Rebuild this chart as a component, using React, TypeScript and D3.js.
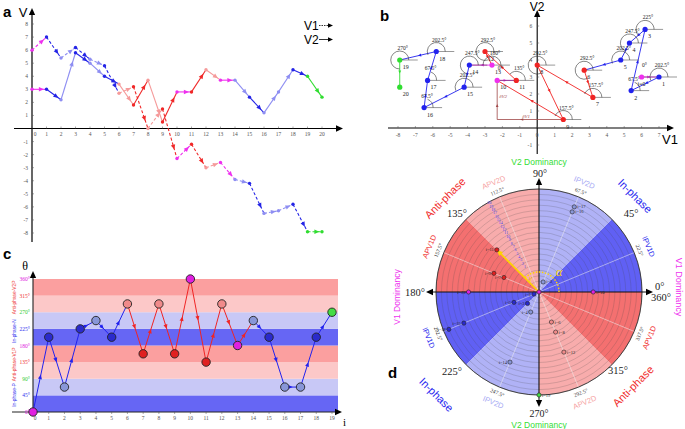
import * as d3 from 'd3';

// values
const V1 = [6, 7, 5.4, 6.2, 5.3, 4.8, 2.7, 3.2, 0, 1.5, -2.3, -1.2, -3, -2.6, -3.9, -4.2, -6.5, -6.3, -5.8, -7.9, -7.9];
const V2 = [3, 3, 2.2, 5.8, 5.0, 4.0, 3.4, 1.8, 3.7, 0.5, 2.8, 2.8, 4.5, 3.7, 3.7, 2.4, 1.2, 2.8, 4.5, 4.0, 2.4];
const THETA = [0, 202.5, 67.5, 225, 247.5, 202.5, 292.5, 157.5, 292.5, 157.5, 360, 135, 292.5, 180, 247.5, 202.5, 67.5, 67.5, 202.5, 270];

const I_TICKS_A = d3.range(0, 21);
const V_TICKS_A = d3.range(-8, 9);
const V1_TICKS_B = d3.range(-8, 8);
const V2_TICKS_B = d3.range(-1, 7);
const I_TICKS_C = d3.range(0, 20);
const ANGLE_TICKS = [0, 45, 90, 135, 180, 225, 270, 315, 360];
const C_GROUPS = ['In-phase-P', 'Anti-phase-V1P', 'In-phase-N', 'Anti-phase-V2P'];
const C_GROUP_AT = [46, 129, 219, 310];
const SECTOR_MIDS = [22.5, 67.5, 112.5, 157.5, 202.5, 247.5, 292.5, 337.5];
const SECTOR_NAMES = ['IPV1D', 'IPV2D', 'APV2D', 'APV1D', 'IPV1D', 'IPV2D', 'APV2D', 'APV1D'];
const PHASE_AT = [45, 135, 225, 315];
const PHASE_NAMES = ['In-phase', 'Anti-phase', 'In-phase', 'Anti-phase'];

type Cat = 'ipD' | 'ipL' | 'apL' | 'apD' | 'v1' | 'v2';
const LINE: Record<Cat, string> = { ipD: '#2424e6', ipL: '#8e8ef2', apD: '#f02828', apL: '#f59a9a', v1: '#ee30ee', v2: '#30dd30' };
const DOT: Record<Cat, string> = { ipD: '#2a2acc', ipL: '#8896d8', apD: '#e02020', apL: '#f08a8a', v1: '#e020e0', v2: '#44dd44' };
const BAND: Record<string, string> = { ipD: '#6666f4', ipL: '#c8c8f6', apL: '#fcc8c8', apD: '#fb9f9f' };
const SECT: Record<string, string> = { ipD: '#6060f4', ipL: '#b0b2f6', apL: '#f8acac', apD: '#f47070' };

function cat(t: number): Cat {
  const m = t % 180;
  if (m === 0) return 'v1';
  if (m === 90) return 'v2';
  if (m <= 45) return 'ipD';
  if (m < 90) return 'ipL';
  if (m < 135) return 'apL';
  return 'apD';
}
function group(t: number) {
  const m = t % 180;
  if (m === 0) return 'v1';
  if (m === 90) return 'v2';
  return m < 90 ? 'ip' : 'ap';
}
const GROUP_COL: Record<string, string> = { ip: '#2222ee', ap: '#f02424', v1: '#ee30ee', v2: '#30dd30' };

const SERIF = 'Liberation Serif, serif';
const SANS = 'Liberation Sans, Arial, sans-serif';

function Head({ x, y, ang, s = 4, fill = '#000' }: { x: number; y: number; ang: number; s?: number; fill?: string }) {
  return <path d={`M0,0L${-s},${-s * 0.45}L${-s},${s * 0.45}Z`} transform={`translate(${x},${y}) rotate(${ang})`} fill={fill} />;
}
function headOn(x1: number, y1: number, x2: number, y2: number, t: number) {
  return { x: x1 + (x2 - x1) * t, y: y1 + (y2 - y1) * t, ang: (Math.atan2(y2 - y1, x2 - x1) * 180) / Math.PI };
}

function PanelA() {
  const x = d3.scaleLinear().domain([0, 20]).range([32, 322]);
  const y = d3.scaleLinear().domain([-8, 8]).range([233, 24]);
  const segs = d3.range(0, 20);
  return (
    <g>
      <text x={3} y={17} fontFamily={SANS} fontWeight="bold" fontSize={15}>a</text>
      <line x1={14} x2={338} y1={y(0)} y2={y(0)} stroke="#000" strokeWidth={1.2} />
      <Head x={343} y={y(0)} ang={0} s={7} />
      <line x1={x(0)} x2={x(0)} y1={242} y2={12} stroke="#000" strokeWidth={1.2} />
      <Head x={x(0)} y={8} ang={-90} s={7} />
      <text x={23} y={17} fontFamily={SANS} fontSize={13} textAnchor="middle">V</text>
      {I_TICKS_A.map((t) => (
        <g key={t}>
          <line x1={x(t)} x2={x(t)} y1={y(0) - 2} y2={y(0)} stroke="#555" strokeWidth={0.5} />
          <text x={x(t) + (t === 0 ? 3 : 0)} y={y(0) + 7} fontFamily={SERIF} fontSize={5.5} fill="#555" textAnchor="middle">{t}</text>
        </g>
      ))}
      {V_TICKS_A.filter((t) => t !== 0).map((t) => (
        <g key={t}>
          <line x1={x(0)} x2={x(0) + 2} y1={y(t)} y2={y(t)} stroke="#555" strokeWidth={0.5} />
          <text x={x(0) - 4} y={y(t) + 2} fontFamily={SERIF} fontSize={5.5} fill="#555" textAnchor="end">{t}</text>
        </g>
      ))}
      {segs.map((i) => {
        const c = LINE[cat(THETA[i])];
        const a2 = headOn(x(i), y(V2[i]), x(i + 1), y(V2[i + 1]), 0.82);
        const a1 = headOn(x(i), y(V1[i]), x(i + 1), y(V1[i + 1]), 0.82);
        return (
          <g key={i}>
            <line x1={x(i)} y1={y(V2[i])} x2={x(i + 1)} y2={y(V2[i + 1])} stroke={c} strokeWidth={1.1} />
            <line x1={x(i)} y1={y(V1[i])} x2={x(i + 1)} y2={y(V1[i + 1])} stroke={c} strokeWidth={1.1} strokeDasharray="3,2" />
            <Head {...a2} s={5} fill={c} />
            <Head {...a1} s={5} fill={c} />
          </g>
        );
      })}
      {V1.map((v, i) => {
        const c = LINE[cat(THETA[Math.min(i, 19)])];
        return (
          <g key={i}>
            <circle cx={x(i)} cy={y(v)} r={1.7} fill={c} />
            <circle cx={x(i)} cy={y(V2[i])} r={1.7} fill={c} />
          </g>
        );
      })}
      <text x={304} y={30} fontFamily={SANS} fontSize={12}>V1</text>
      <line x1={319} x2={329} y1={25.5} y2={25.5} stroke="#000" strokeWidth={0.8} strokeDasharray="1.5,1" />
      <Head x={333} y={25.5} ang={0} s={5} />
      <text x={304} y={44} fontFamily={SANS} fontSize={12}>V2</text>
      <line x1={319} x2={329} y1={39.5} y2={39.5} stroke="#000" strokeWidth={0.8} />
      <Head x={333} y={39.5} ang={0} s={5} />
    </g>
  );
}

function PanelB() {
  const x = d3.scaleLinear().domain([-8, 7]).range([398, 659]);
  const y = d3.scaleLinear().domain([0, 6]).range([128, 26]);
  const bc = (t: number) => GROUP_COL[group(t)];
  const p9 = [x(V1[9]), y(V2[9])];
  const p10 = [x(V1[10]), y(V2[10])];
  const brown = '#a04848';
  return (
    <g>
      <text x={380} y={21} fontFamily={SANS} fontWeight="bold" fontSize={15}>b</text>
      <line x1={388} x2={668} y1={y(0)} y2={y(0)} stroke="#000" strokeWidth={1.1} />
      <Head x={674} y={y(0)} ang={0} s={7} />
      <text x={662} y={144} fontFamily={SANS} fontSize={13}>V1</text>
      <line x1={x(0)} x2={x(0)} y1={154} y2={16} stroke="#000" strokeWidth={1.1} />
      <Head x={x(0)} y={10} ang={-90} s={7} />
      <text x={537} y={11} fontFamily={SANS} fontSize={12} textAnchor="middle">V2</text>
      {V1_TICKS_B.map((t) => (
        <g key={t}>
          <line x1={x(t)} x2={x(t)} y1={y(0) - 2} y2={y(0)} stroke="#555" strokeWidth={0.5} />
          <text x={x(t)} y={y(0) + 9} fontFamily={SERIF} fontSize={5.5} fill="#555" textAnchor="middle">{t}</text>
        </g>
      ))}
      {V2_TICKS_B.filter((t) => t !== 0).map((t) => (
        <g key={t}>
          <line x1={x(0)} x2={x(0) + 2} y1={y(t)} y2={y(t)} stroke="#555" strokeWidth={0.5} />
          <text x={x(0) - 5} y={y(t) + 2} fontFamily={SERIF} fontSize={5.5} fill="#555" textAnchor="end">{t}</text>
        </g>
      ))}
      {/* delta triangle for step 9 -> 10 */}
      <line x1={p9[0]} y1={p9[1]} x2={p10[0]} y2={p9[1]} stroke={brown} strokeWidth={0.8} />
      <line x1={p10[0]} y1={p9[1]} x2={p10[0]} y2={p10[1]} stroke={brown} strokeWidth={0.8} />
      <Head x={(p9[0] + p10[0]) / 2 - 10} y={p9[1]} ang={180} s={3} fill={brown} />
      <Head x={p10[0]} y={(p9[1] + p10[1]) / 2 + 4} ang={-90} s={3} fill={brown} />
      <text x={(p9[0] + p10[0]) / 2 - 8} y={p9[1] - 2} fontFamily={SERIF} fontStyle="italic" fontSize={5} fill={brown}>δV1</text>
      <text x={p10[0] + 2} y={(p9[1] + p10[1]) / 2 - 2} fontFamily={SERIF} fontStyle="italic" fontSize={5} fill={brown}>δV2</text>
      {THETA.map((t, i) => {
        const x1 = x(V1[i]), y1 = y(V2[i]), x2 = x(V1[i + 1]), y2 = y(V2[i + 1]);
        const a = headOn(x1, y1, x2, y2, 0.5);
        return (
          <g key={i}>
            <line x1={x1} y1={y1} x2={x2} y2={y2} stroke={bc(t)} strokeWidth={0.9} />
            <Head {...a} s={3.2} fill={bc(t)} />
          </g>
        );
      })}
      {THETA.map((t, i) => {
        const px = x(V1[i]), py = y(V2[i]);
        const r = 9;
        const tt = t % 360;
        const rad = (tt * Math.PI) / 180;
        const arc = tt === 0 ? '' : `M${px + r},${py}A${r},${r} 0 ${tt > 180 ? 1 : 0} 0 ${px + r * Math.cos(rad)},${py - r * Math.sin(rad)}`;
        return (
          <g key={i}>
            <line x1={px} x2={px + 18} y1={py} y2={py} stroke="#333" strokeWidth={0.5} />
            {arc && <path d={arc} fill="none" stroke="#333" strokeWidth={0.6} />}
            <text x={px + 3} y={py - 10} fontFamily={SERIF} fontSize={5.5} fill="#222" textAnchor="middle">{`${tt}°`}</text>
          </g>
        );
      })}
      {V1.map((v, i) => {
        const c = bc(THETA[Math.min(i, 19)]);
        return (
          <g key={i}>
            <circle cx={x(v)} cy={y(V2[i])} r={2.6} fill={c} />
            <text x={x(v) + (i === 0 ? 0 : 3)} y={y(V2[i]) + 9} fontFamily={SERIF} fontSize={6} fill="#222" textAnchor={i === 0 ? 'middle' : 'start'}>{i === 0 ? 'i=0' : i}</text>
          </g>
        );
      })}
    </g>
  );
}

function PanelC() {
  const x = d3.scaleLinear().domain([0, 19]).range([33, 332]);
  const y = d3.scaleLinear().domain([0, 360]).range([412, 279]);
  const bands = ANGLE_TICKS.slice(0, 8);
  let prev = 'ip';
  const segCol = THETA.slice(0, 19).map((t) => {
    let g = group(t);
    if (g === 'v1' || g === 'v2') g = prev;
    prev = g;
    return GROUP_COL[g];
  });
  const tickCol = (t: number) => (t % 180 === 0 ? '#e020e0' : t % 180 === 90 ? '#30cc30' : t % 180 === 45 ? '#3030ee' : '#ee3030');
  return (
    <g>
      <text x={3} y={259} fontFamily={SANS} fontWeight="bold" fontSize={15}>c</text>
      {bands.map((b) => (
        <rect key={b} x={x(0)} width={338 - x(0)} y={y(b + 45)} height={y(b) - y(b + 45)} fill={BAND[cat(b + 22.5)]} />
      ))}
      <line x1={12} x2={336} y1={y(0)} y2={y(0)} stroke="#222" strokeWidth={1.1} />
      <Head x={342} y={y(0)} ang={0} s={7} />
      <text x={343} y={426} fontFamily={SERIF} fontSize={11}>i</text>
      <line x1={x(0)} x2={x(0)} y1={414} y2={276} stroke="#222" strokeWidth={1.1} />
      <Head x={x(0)} y={271} ang={-90} s={7} />
      <text x={25} y={270} fontFamily={SERIF} fontSize={12} textAnchor="middle">θ</text>
      {I_TICKS_C.map((t) => (
        <g key={t}>
          <line x1={x(t)} x2={x(t)} y1={y(0)} y2={y(0) + 2} stroke="#555" strokeWidth={0.5} />
          <text x={x(t) + (t === 0 ? 2 : 0)} y={y(0) + 7.5} fontFamily={SERIF} fontSize={5.5} fill="#555" textAnchor="middle">{t}</text>
        </g>
      ))}
      {ANGLE_TICKS.map((t) => (
        <text key={t} x={30} y={y(t) + 2} fontFamily={SERIF} fontSize={5.5} fill={tickCol(t)} textAnchor="end">{`${t}°`}</text>
      ))}
      {C_GROUPS.map((g, k) => (
        <text key={g} transform={`translate(16,${y(C_GROUP_AT[k])}) rotate(-90)`} fontFamily={SANS} fontSize={4.8} fill={k % 2 === 0 ? '#3a3aee' : '#ee3a3a'} textAnchor="middle">{g}</text>
      ))}
      {segCol.map((c, i) => {
        const x1 = x(i), y1 = y(THETA[i]), x2 = x(i + 1), y2 = y(THETA[i + 1]);
        const a = headOn(x1, y1, x2, y2, 0.5);
        return (
          <g key={i}>
            <line x1={x1} y1={y1} x2={x2} y2={y2} stroke={c} strokeWidth={1} />
            <Head {...a} s={4.5} fill={c} />
          </g>
        );
      })}
      {THETA.map((t, i) => (
        <circle key={i} cx={x(i)} cy={y(t)} r={4.2} fill={DOT[cat(t)]} stroke="#222" strokeWidth={0.9} />
      ))}
    </g>
  );
}

function PanelD() {
  const cx = 539, cy = 292, R = 103;
  const rD = d3.scaleLinear().domain([0, 19]).range([0, R]);
  const pol = (a: number, r: number) => [cx + r * Math.cos((a * Math.PI) / 180), cy - r * Math.sin((a * Math.PI) / 180)];
  const arcGen = d3.arc<any>();
  const rad = (d: number) => (d * Math.PI) / 180;
  const rot = (a: number) => {
    let r = 90 - a;
    while (r > 90) r -= 180;
    while (r <= -90) r += 180;
    return r;
  };
  const sectors = ANGLE_TICKS.slice(0, 8);
  const yellow = '#ffd400';
  const p11 = pol(THETA[11], rD(11));
  const ya = headOn(cx, cy, p11[0], p11[1], 1);
  const yArcR = 20;
  const yEnd = pol(135, yArcR);
  const sideLab: Record<number, [number, number]> = {
    45: [631, 213], 135: [457, 213], 225: [452, 371], 315: [618, 370],
  };
  const phaseR = [33, 30, 42, 30];
  return (
    <g>
      <text x={388} y={378} fontFamily={SANS} fontWeight="bold" fontSize={15}>d</text>
      {sectors.map((a0) => (
        <path
          key={a0}
          d={arcGen({ innerRadius: 0, outerRadius: R, startAngle: rad(90 - a0 - 45), endAngle: rad(90 - a0) }) as string}
          transform={`translate(${cx},${cy})`}
          fill={SECT[cat(a0 + 22.5)]}
        />
      ))}
      {d3.range(1, 20).map((k) => (
        <circle key={k} cx={cx} cy={cy} r={rD(k)} fill="none" stroke="#444" strokeOpacity={0.4} strokeWidth={0.5} />
      ))}
      {SECTOR_MIDS.map((a) => {
        const [ex, ey] = pol(a, R + 3);
        return <line key={a} x1={cx} y1={cy} x2={ex} y2={ey} stroke="#eee" strokeOpacity={0.75} strokeWidth={0.7} />;
      })}
      <circle cx={cx} cy={cy} r={R} fill="none" stroke="#333" strokeWidth={0.9} />
      <line x1={cx - R - 5} x2={cx + R + 6} y1={cy} y2={cy} stroke="#111" strokeWidth={1.1} />
      <Head x={cx - R - 10} y={cy} ang={180} s={7} />
      <Head x={cx + R + 11} y={cy} ang={0} s={7} />
      <line x1={cx} x2={cx} y1={cy - R - 6} y2={cy + R + 6} stroke="#111" strokeWidth={1.1} />
      <Head x={cx} y={cy - R - 11} ang={-90} s={7} />
      <Head x={cx} y={cy + R + 12} ang={90} s={7} />
      {SECTOR_MIDS.map((a) => {
        const [lx, ly] = pol(a, R + 6);
        return (
          <text key={a} transform={`translate(${lx},${ly}) rotate(${rot(a)})`} fontFamily={SERIF} fontSize={5.5} fill="#333" textAnchor="middle" dy={2}>{`${a}°`}</text>
        );
      })}
      {SECTOR_NAMES.map((n, k) => {
        const a = SECTOR_MIDS[k];
        const [lx, ly] = pol(a, R + 16);
        const c = cat(a);
        const col = c === 'ipD' ? '#3030ee' : c === 'ipL' ? '#a8aaf4' : c === 'apL' ? '#f6a4a4' : '#f03030';
        return (
          <text key={k} transform={`translate(${lx},${ly}) rotate(${rot(a)})`} fontFamily={SANS} fontSize={7.5} fill={col} textAnchor="middle" dy={3}>{n}</text>
        );
      })}
      {PHASE_NAMES.map((n, k) => {
        const a = PHASE_AT[k];
        const [lx, ly] = pol(a, R + phaseR[k]);
        return (
          <text key={k} transform={`translate(${lx},${ly}) rotate(${rot(a)})`} fontFamily={SANS} fontSize={11} fill={k % 2 === 0 ? '#2a2af0' : '#f02a2a'} textAnchor="middle" dy={4}>{n}</text>
        );
      })}
      {[45, 135, 225, 315].map((a) => (
        <text key={a} x={sideLab[a][0]} y={sideLab[a][1] + 4} fontFamily={SERIF} fontSize={10.5} fill="#222" textAnchor="middle">{`${a}°`}</text>
      ))}
      <text x={cx + 1} y={177} fontFamily={SERIF} fontSize={10} fill="#222" textAnchor="middle">90°</text>
      <text x={cx} y={417} fontFamily={SERIF} fontSize={10} fill="#222" textAnchor="middle">270°</text>
      <text x={cx - R - 11} y={cy + 4} fontFamily={SERIF} fontSize={10.5} fill="#222" textAnchor="end">180°</text>
      <text x={cx + R + 13} y={cy - 2} fontFamily={SERIF} fontSize={10.5} fill="#222">0°</text>
      <text x={cx + R + 9} y={cy + 9} fontFamily={SERIF} fontSize={10.5} fill="#222">360°</text>
      <text x={cx} y={165} fontFamily={SANS} fontSize={8.5} fill="#33dd33" textAnchor="middle">V2 Dominancy</text>
      <text x={cx} y={428} fontFamily={SANS} fontSize={8.5} fill="#33dd33" textAnchor="middle">V2 Dominancy</text>
      <text transform={`translate(676,${cy - 5}) rotate(90)`} fontFamily={SANS} fontSize={9} fill="#ee33ee" textAnchor="middle">V1 Dominancy</text>
      <text transform={`translate(400,${cy + 5}) rotate(-90)`} fontFamily={SANS} fontSize={8.5} fill="#ee33ee" textAnchor="middle">V1 Dominancy</text>
      {d3.range(1, 21).map((k) => {
        const [lx, ly] = pol(119, 29 + (k - 1) * 3.85);
        return (
          <text key={k} x={lx} y={ly + 1.5} fontFamily={SERIF} fontSize={4} fill="#4444ee" textAnchor="middle">{k}</text>
        );
      })}
      {/* yellow angle marker */}
      <path d={`M${cx + yArcR},${cy}A${yArcR},${yArcR} 0 0 0 ${yEnd[0]},${yEnd[1]}`} fill="none" stroke={yellow} strokeWidth={1.4} strokeDasharray="1.5,1.5" />
      <line x1={cx} y1={cy} x2={p11[0]} y2={p11[1]} stroke={yellow} strokeWidth={1.6} />
      <Head {...ya} s={6} fill={yellow} />
      <text x={556} y={276} fontFamily={SERIF} fontStyle="italic" fontSize={12} fill={yellow}>α</text>
      <text x={529} y={281} fontFamily={SERIF} fontStyle="italic" fontSize={8} fill={yellow}>γ</text>
      {THETA.map((t, i) => {
        const [px, py] = pol(t, rD(i));
        const left = Math.cos((t * Math.PI) / 180) < -0.1;
        return (
          <g key={i}>
            <circle cx={px} cy={py} r={2.1} fill={DOT[cat(t)]} stroke="#222" strokeWidth={0.6} />
            {i > 0 && (
              <text x={px + (left ? -3 : 3)} y={py + 1.5} fontFamily={SERIF} fontSize={4.5} fill="#222" textAnchor={left ? 'end' : 'start'}>{`i=${i}`}</text>
            )}
          </g>
        );
      })}
    </g>
  );
}

export default function App() {
  return (
    <svg width={685} height={429} style={{ position: 'absolute', left: 0, top: 0, background: '#fff' }}>
      <rect width={685} height={429} fill="#fff" />
      <PanelA />
      <PanelB />
      <PanelC />
      <PanelD />
    </svg>
  );
}
